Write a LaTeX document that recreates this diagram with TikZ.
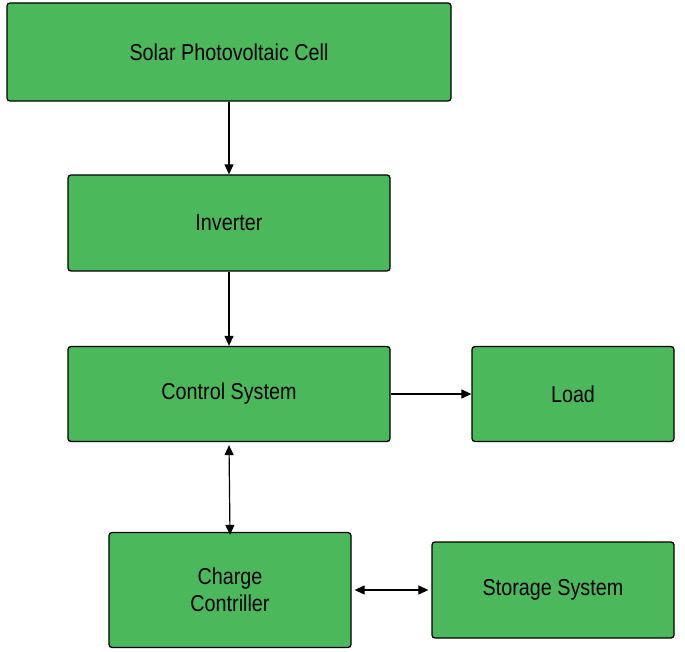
\documentclass[tikz,border=0pt]{standalone}
\usepackage{fontspec}
\setmainfont{Liberation Sans}[FakeStretch=0.86]
\usetikzlibrary{arrows.meta}
\definecolor{boxg}{RGB}{76,184,92}
\begin{document}
\begin{tikzpicture}[x=1pt,y=-1pt,
  box/.style={draw=black,line width=1.3pt,fill=boxg,rounded corners=3pt,align=center,font=\fontsize{23}{27}\selectfont,inner sep=0pt},
  arr/.style={line width=1.2pt,-{Triangle[length=10pt,width=9pt]}},
  darr/.style={line width=1.2pt,{Triangle[length=10pt,width=9pt]}-{Triangle[length=10pt,width=9pt]}}]
\useasboundingbox (0,0) rectangle (685,652);
\node[box,minimum width=444pt,minimum height=98pt] (solar) at (229,52) {Solar Photovoltaic Cell};
\node[box,minimum width=322pt,minimum height=96pt] (inv) at (229,223) {Inverter};
\node[box,minimum width=322pt,minimum height=95pt] (ctrl) at (229,394) {Control System};
\node[box,minimum width=202pt,minimum height=95pt] (load) at (573,394) {Load};
\node[box,minimum width=242pt,minimum height=115pt] (chg) at (230,590) {Charge\\Contriller};
\node[box,minimum width=242pt,minimum height=96pt] (stor) at (553,590) {Storage System};
\draw[arr] (solar) -- (inv);
\draw[arr] (inv) -- (ctrl);
\draw[arr] (ctrl) -- (load);
\draw[darr] (ctrl.south) ++(0,3) -- ([yshift=-3pt]chg.north);
\draw[darr] ([xshift=3pt]chg.east) -- ([xshift=-3pt]stor.west);
\end{tikzpicture}
\end{document}
